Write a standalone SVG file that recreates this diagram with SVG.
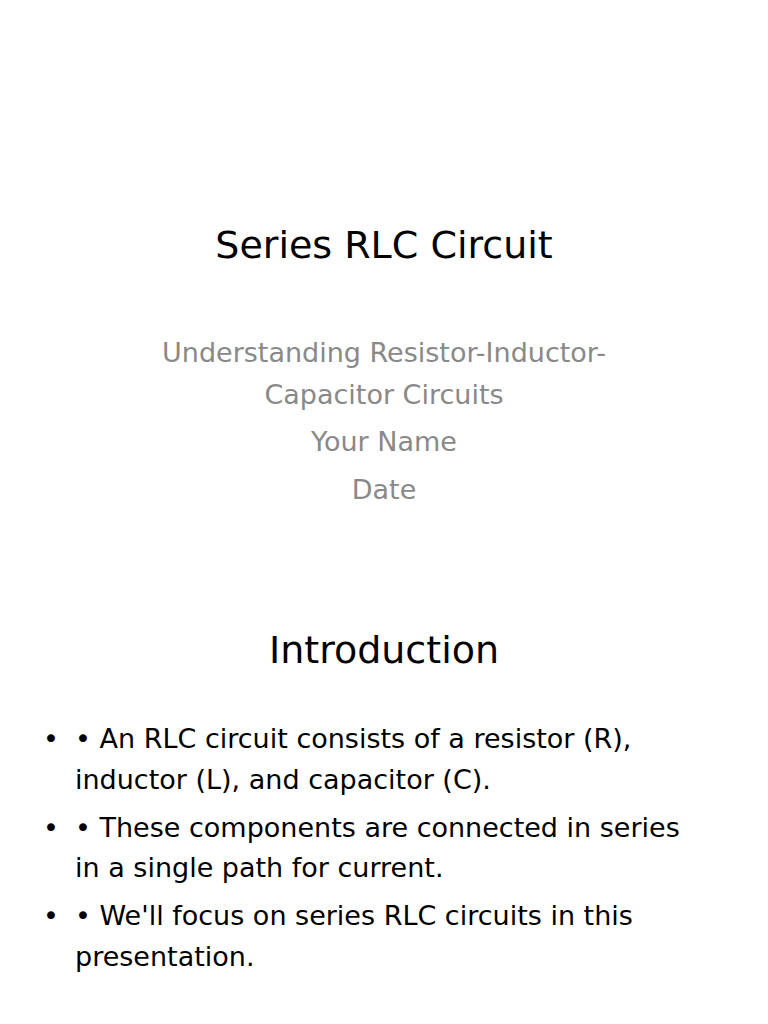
<svg xmlns="http://www.w3.org/2000/svg" width="768" height="1024" viewBox="0 0 768 1024">
<style>
text{font-family:"DejaVu Sans","Open Sans",sans-serif}
.t{font-size:38px;fill:#000;text-anchor:middle}
.s{font-size:27px;fill:#898989;text-anchor:middle}
.b{font-size:27px;fill:#000}
</style>
<rect width="768" height="1024" fill="#fff"/>
<text class="t" x="384" y="258">Series RLC Circuit</text>
<text class="s" x="384" y="362">Understanding Resistor-Inductor-</text>
<text class="s" x="384" y="404">Capacitor Circuits</text>
<text class="s" x="384" y="451">Your Name</text>
<text class="s" x="384" y="499">Date</text>
<text class="t" x="384" y="663">Introduction</text>
<g class="b">
<text class="b" x="43" y="748">•</text>
<text class="b" x="75" y="748">• An RLC circuit consists of a resistor (R),</text>
<text class="b" x="75" y="789">inductor (L), and capacitor (C).</text>
<text class="b" x="43" y="837">•</text>
<text class="b" x="75" y="837">• These components are connected in series</text>
<text class="b" x="75" y="877">in a single path for current.</text>
<text class="b" x="43" y="925">•</text>
<text class="b" x="75" y="925">• We'll focus on series RLC circuits in this</text>
<text class="b" x="75" y="966">presentation.</text>
</g>
</svg>
